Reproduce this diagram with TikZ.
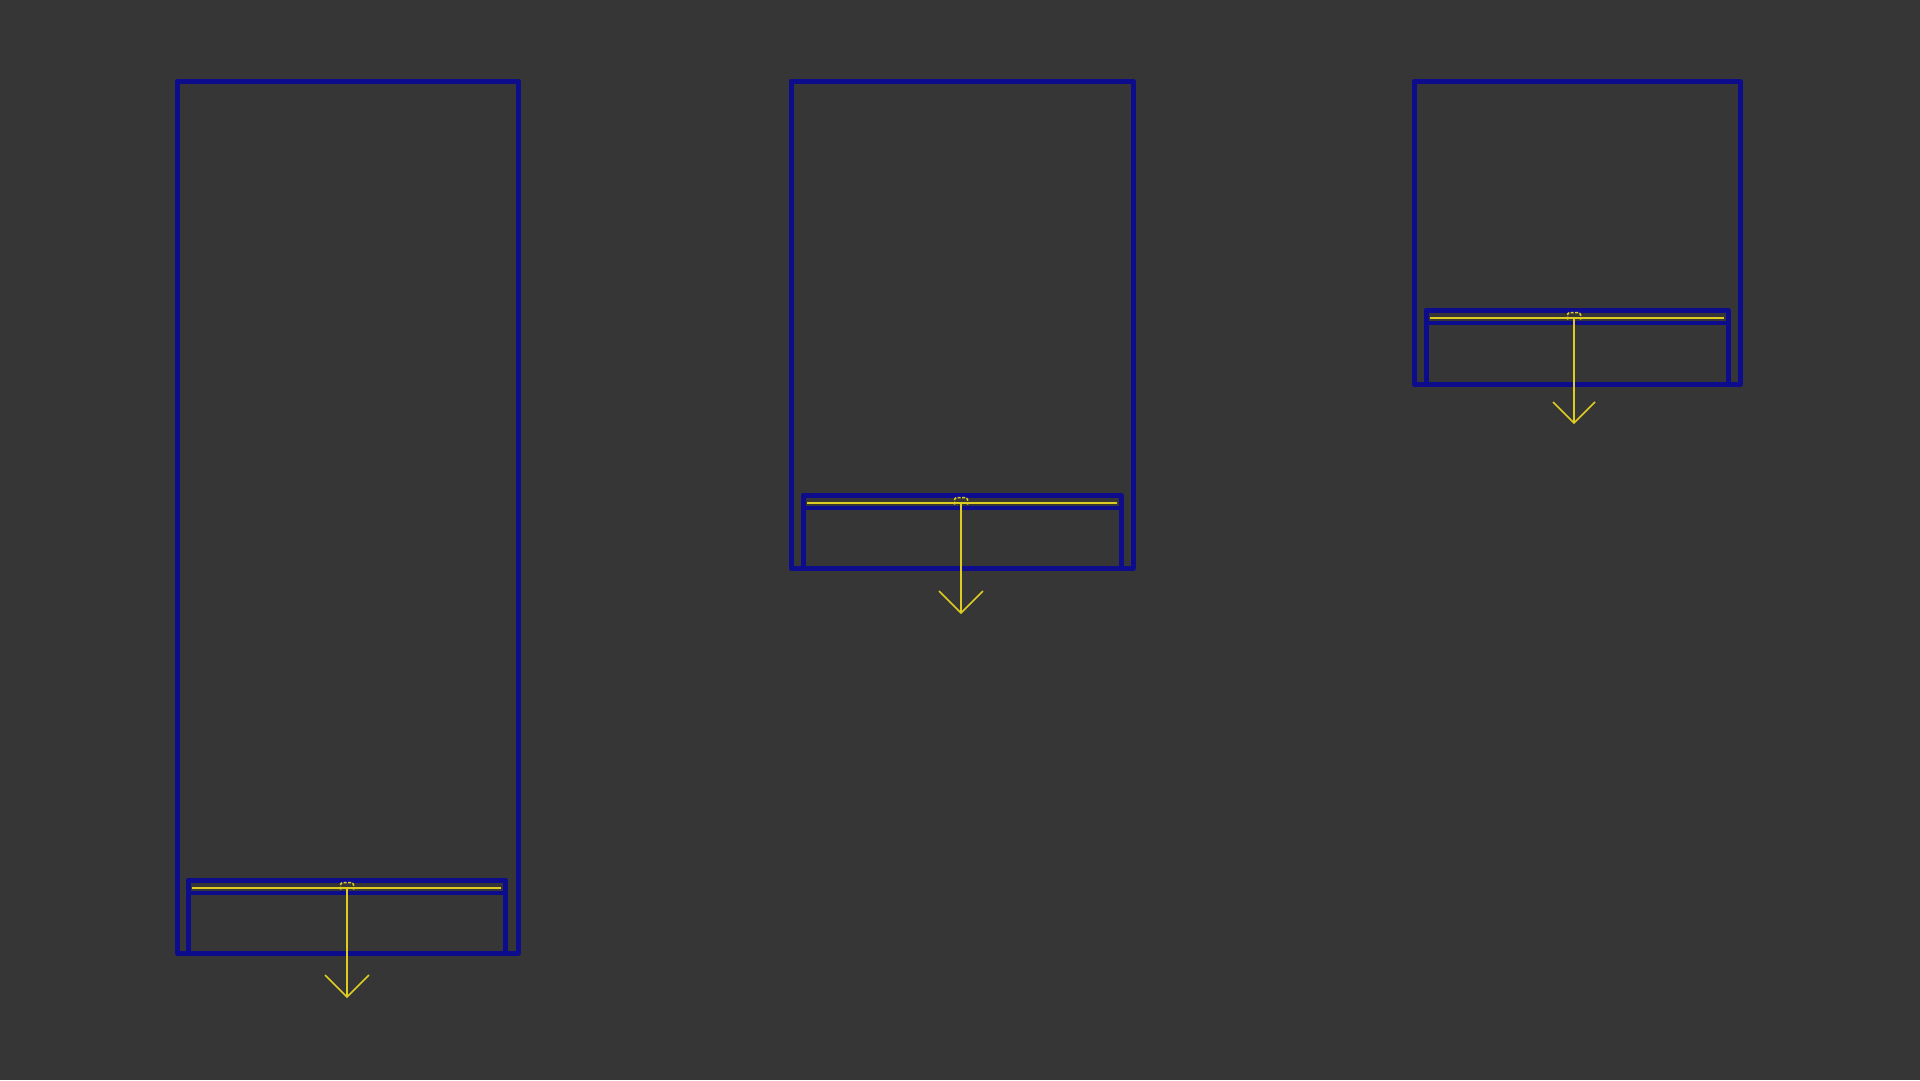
\documentclass[tikz,border=0pt]{standalone}
\usepackage{tikz}
\definecolor{bgdark}{RGB}{54,54,54}
\definecolor{wallblue}{RGB}{12,12,140}
\definecolor{rodyellow}{RGB}{222,204,34}
\tikzset{>=latex, wall/.style = {draw=wallblue, line width=5pt, line join=round},%
		seal/.style = {draw=wallblue, line width=4pt},%
		rod/.style = {draw=rodyellow, line width=1.6pt},%
		pin/.style = {draw=rodyellow, line width=1.5pt, rounded corners=2.5pt,
        dash pattern=on 3pt off 1.5pt}}

\begin{document}
\begin{tikzpicture}[x=1pt,y=-1pt]
    \fill[bgdark] (0,0) rectangle (1920,1080);
    \useasboundingbox (0,0) rectangle (1920,1080);
    % tall cylinder
    \draw[wall] (177,81) rectangle (518,953);
    \draw[wall] (188,880) rectangle (505,953);
    \draw[seal] (188,892.5) -- (505,892.5);
    \draw[rod] (192,888) -- (501,888);
    \coordinate (pinA) at (347,888);
    \coordinate (tipA) at (347,997);
    \draw[pin] (pinA) ++(-6.5,1.5) -- ++(0,-7) -- ++(13,0) -- ++(0,7);
    \draw[rod] (pinA) -- (tipA);
    \draw[rod] (325,975) -- (tipA) -- (369,975);
    % middle cylinder
    \draw[wall] (791,81) rectangle (1133,568);
    \draw[wall] (803,495) rectangle (1121,568);
    \draw[seal] (803,507.5) -- (1121,507.5);
    \draw[rod] (807,503) -- (1117,503);
    \coordinate (pinB) at (961,503);
    \coordinate (tipB) at (961,613);
    \draw[pin] (pinB) ++(-6.5,1.5) -- ++(0,-7) -- ++(13,0) -- ++(0,7);
    \draw[rod] (pinB) -- (tipB);
    \draw[rod] (939,591) -- (tipB) -- (983,591);
    % short cylinder
    \draw[wall] (1414,81) rectangle (1740,384);
    \draw[wall] (1426,310) rectangle (1728,384);
    \draw[seal] (1426,322.5) -- (1728,322.5);
    \draw[rod] (1430,318) -- (1724,318);
    \coordinate (pinC) at (1574,318);
    \coordinate (tipC) at (1574,423);
    \draw[pin] (pinC) ++(-6.5,1.5) -- ++(0,-7) -- ++(13,0) -- ++(0,7);
    \draw[rod] (pinC) -- (tipC);
    \draw[rod] (1553,402) -- (tipC) -- (1595,402);
\end{tikzpicture}
\end{document}
